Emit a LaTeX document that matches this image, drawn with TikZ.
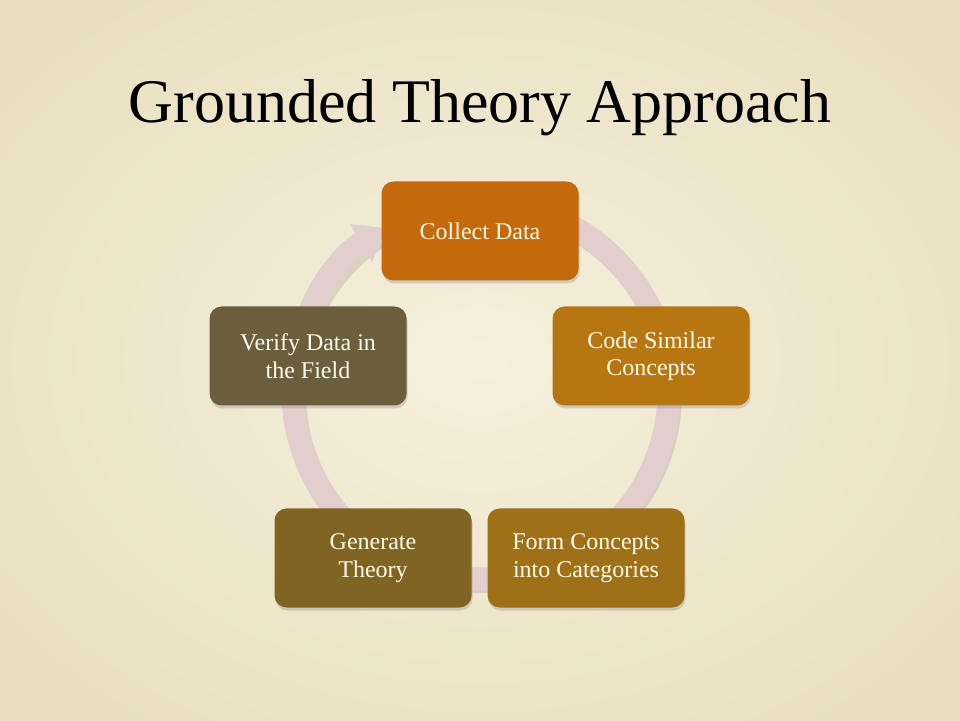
\documentclass[tikz,border=0pt]{standalone}
\usepackage{fontspec}
\setmainfont{Liberation Serif}
\usepackage{tikz}
\usetikzlibrary{arrows.meta,positioning,calc,shadows}
\usepackage{xcolor}

\definecolor{paper}{RGB}{245,240,221}
\definecolor{paperedge}{RGB}{234,224,192}
\definecolor{ringpink}{RGB}{226,206,204}
\definecolor{boxtext}{RGB}{255,250,236}
\definecolor{collectc}{RGB}{197,106,12}
\definecolor{codec}{RGB}{182,118,18}
\definecolor{formc}{RGB}{158,112,24}
\definecolor{generatec}{RGB}{128,100,36}
\definecolor{verifyc}{RGB}{108,94,60}

\begin{document}
\begin{tikzpicture}[x=1pt,y=1pt,
   stage/.style={rounded corners=12pt,minimum width=197pt,minimum height=99pt,
     align=center,text=boxtext,font=\fontsize{24}{27.5}\selectfont,
     drop shadow={opacity=0.3,shadow xshift=1pt,shadow yshift=-3pt}},
   ring/.style={line width=23pt,draw=ringpink,-{Triangle[width=42pt,length=30pt]}},
   title/.style={font=\fontsize{62}{70}\selectfont,text=black,anchor=base}]
  \useasboundingbox (0,0) rectangle (960,720);
  \shade[inner color=paper,outer color=paperedge] (-120,-90) rectangle (1080,810);
  \node[title] (head) at (480,597) {Grounded Theory Approach};
  % cycle ring behind the stages
  \coordinate (hub) at (481,329);
  \draw[line width=23pt,black,opacity=0.1] ([shift={(86:188)}]$(hub)+(1.5,-2.5)$) arc[start angle=86,end angle=-236,radius=188];
  \draw[ring] ([shift={(86:188)}]hub) arc[start angle=86,end angle=-240,radius=188];
  % stages
  \node[stage,fill=collectc] (collect) at (480,489) {Collect Data};
  \node[stage,fill=codec] (code) at (651,364) {Code Similar\\Concepts};
  \node[stage,fill=formc] (form) at (586,162) {Form Concepts\\into Categories};
  \node[stage,fill=generatec] (generate) at (373,162) {Generate\\Theory};
  \node[stage,fill=verifyc] (verify) at (308,364) {Verify Data in\\the Field};
\end{tikzpicture}
\end{document}
